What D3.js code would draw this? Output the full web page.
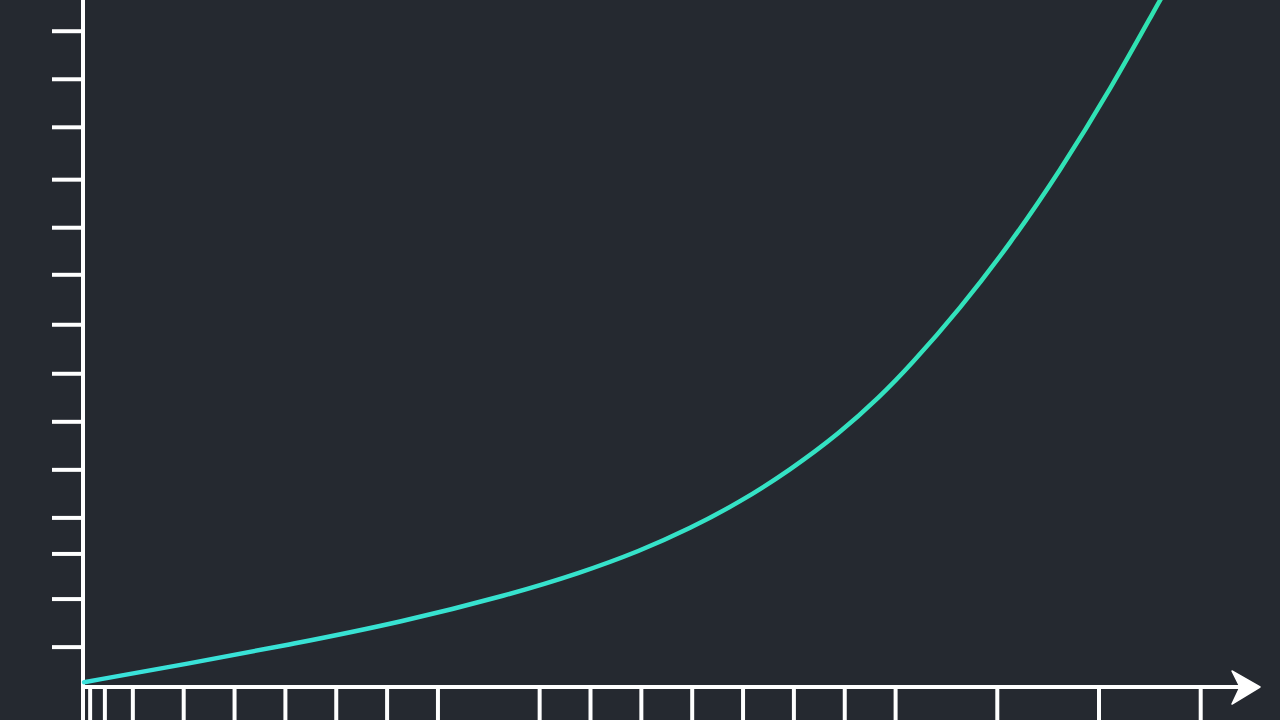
<!DOCTYPE html>
<html>
<head>
<meta charset="utf-8">
<script src="https://cdn.jsdelivr.net/npm/d3@7"></script>
<style>
  html, body { margin: 0; padding: 0; background: #252930; overflow: hidden; }
  svg { display: block; }
</style>
</head>
<body>
<div id="chart"></div>
<script>
// values (x and y in grid units)
const curveX = [0.04, 2.06, 4.17, 6.27, 8.40, 9.79, 10.97, 11.96, 12.94, 13.92, 14.91, 15.69, 16.28, 17.27, 18.25, 19.23, 20.22, 21.20, 21.32]
const curveY = [0.10, 0.48, 0.90, 1.35, 1.92, 2.37, 2.83, 3.30, 3.85, 4.51, 5.29, 6.04, 6.68, 7.88, 9.22, 10.74, 12.43, 14.30, 14.51]

const xTicks = [0.16, 0.45, 1, 2, 3, 4, 5, 6, 7, 9, 10, 11, 12, 13, 14, 15, 16, 18, 20, 22]
const yTicks = [0.83, 1.83, 2.77, 3.52, 4.52, 5.52, 6.52, 7.54, 8.58, 9.56, 10.56, 11.65, 12.65, 13.65]

const width = 1280
const height = 720
const origin = {x: 82, y: 687}

const svg = d3.select('#chart')
              .append('svg')
              .attr('width', width)
              .attr('height', height)

svg.append('rect')
   .attr('width', width)
   .attr('height', height)
   .attr('fill', '#252930')

const x = d3.scaleLinear().domain([0, 22]).range([origin.x, origin.x + 22 * 50.85])
const y = d3.scaleLinear().domain([0, 14.3]).range([origin.y, 0])

// tick marks only, no labels
const yAxis = d3.axisLeft(y).tickValues(yTicks).tickSize(30).tickFormat('').offset(0)
const xAxis = d3.axisBottom(x).tickValues(xTicks).tickSize(40).tickFormat('').offset(0)

svg.append('g')
   .attr('transform', 'translate(' + origin.x + ',0)')
   .call(yAxis)
svg.append('g')
   .attr('transform', 'translate(0,' + origin.y + ')')
   .call(xAxis)

svg.selectAll('.domain').remove()
svg.selectAll('.tick line')
   .attr('stroke', '#ffffff')
   .attr('stroke-width', 4)

// axis lines
svg.append('line')
   .attr('x1', origin.x + 1).attr('x2', origin.x + 1)
   .attr('y1', 0).attr('y2', height)
   .attr('stroke', '#ffffff')
   .attr('stroke-width', 4)

svg.append('line')
   .attr('x1', origin.x).attr('x2', 1242)
   .attr('y1', origin.y).attr('y2', origin.y)
   .attr('stroke', '#ffffff')
   .attr('stroke-width', 4)

// arrow head on the x axis
svg.append('path')
   .attr('d', 'M1260,' + origin.y + ' L1232,' + (origin.y - 16) + ' L1240,' + origin.y + ' L1232,' + (origin.y + 17) + ' Z')
   .attr('fill', '#ffffff')
   .attr('stroke', '#ffffff')
   .attr('stroke-width', 1.5)
   .attr('stroke-linejoin', 'round')

// colour of the curve drifts from cyan to green
const grad = svg.append('defs')
                .append('linearGradient')
                .attr('id', 'curveGrad')
                .attr('gradientUnits', 'userSpaceOnUse')
                .attr('x1', origin.x).attr('y1', origin.y)
                .attr('x2', 1160).attr('y2', 0)
grad.append('stop').attr('offset', '0%').attr('stop-color', '#3ae2dc')
grad.append('stop').attr('offset', '100%').attr('stop-color', '#2fe2b0')

const points = curveX.map((d, i) => ({x: d, y: curveY[i]}))

// basis curve smooths out the reading noise
const line = d3.line()
               .x(d => x(d.x))
               .y(d => y(d.y))
               .curve(d3.curveBasis)

svg.append('path')
   .datum(points)
   .attr('d', line)
   .attr('fill', 'none')
   .attr('stroke', 'url(#curveGrad)')
   .attr('stroke-width', 4.5)
   .attr('stroke-linecap', 'round')
</script>
</body>
</html>
